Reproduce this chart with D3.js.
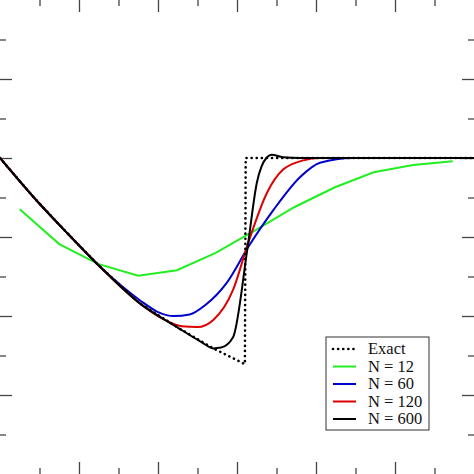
<!DOCTYPE html>
<html><head><meta charset="utf-8">
<script src="https://cdn.jsdelivr.net/npm/d3@7"></script>
<style>body{margin:0;background:#fff}svg{display:block}</style>
</head><body>
<script>
const exactX=[0,0.42,0.85,1.27,1.77,2.24,2.70,3.10,3.11,6];
const exactY=[0,-0.49,-0.95,-1.38,-1.84,-2.14,-2.41,-2.61,0,0];
const n600X=[0,0.42,0.85,1.27,1.77,2.24,2.55,2.70,2.80,2.95,3.13,3.25,3.38,3.44,3.58,3.8,6];
const n600Y=[0,-0.49,-0.95,-1.38,-1.84,-2.14,-2.33,-2.41,-2.40,-2.27,-1.16,-0.32,0.01,0.04,0.01,0,0];
const n120X=[0,0.42,0.85,1.27,1.77,2.05,2.30,2.50,2.70,2.95,3.14,3.38,3.58,3.84,4.05,6];
const n120Y=[0,-0.49,-0.95,-1.38,-1.84,-2.03,-2.13,-2.14,-2.05,-1.67,-1.08,-0.44,-0.15,-0.03,0,0];
const n60X=[0,0.42,0.85,1.27,1.77,2.00,2.20,2.40,2.60,2.87,3.14,3.46,3.80,4.05,4.47,6];
const n60Y=[0,-0.49,-0.95,-1.38,-1.80,-1.95,-2.00,-1.98,-1.86,-1.58,-1.13,-0.66,-0.24,-0.06,0,0];
const n12X=[0.25,0.75,1.24,1.75,2.24,2.73,3.24,3.73,4.24,4.73,5.23,5.73];
const n12Y=[-0.65,-1.09,-1.34,-1.49,-1.42,-1.20,-0.91,-0.62,-0.37,-0.18,-0.09,-0.04];
const legendLabels=["Exact","N = 12","N = 60","N = 120","N = 600"];
const majorX=[1,2,3,4,5], minorX=[0.5,1.5,2.5,3.5,4.5,5.5];
const majorY=[1,0,-1,-2,-3], minorY=[1.5,0.5,-0.5,-1.5,-2.5,-3.5];

const W=474,H=474;
const svg=d3.select("body").append("svg").attr("width",W).attr("height",H);
const x=d3.scaleLinear().domain([0,6]).range([0,W]);
const y=d3.scaleLinear().domain([2,-4]).range([0,H]);
function ax(axis,vals,size,tr){
  svg.append("g").attr("transform",tr).call(axis.tickValues(vals).tickSize(size).tickFormat(""))
   .call(g=>{g.select(".domain").remove();g.selectAll("line").attr("stroke","#444").attr("stroke-width",1.3);});
}
ax(d3.axisBottom(x),majorX,12,"translate(0,0)");
ax(d3.axisBottom(x),minorX,6,"translate(0,0)");
ax(d3.axisTop(x),majorX,12,`translate(0,${H})`);
ax(d3.axisTop(x),minorX,6,`translate(0,${H})`);
ax(d3.axisRight(y),majorY,12,"translate(0,0)");
ax(d3.axisRight(y),minorY,6,"translate(0,0)");
ax(d3.axisLeft(y),majorY,12,`translate(${W},0)`);
ax(d3.axisLeft(y),minorY,6,`translate(${W},0)`);

const series=[
 {xs:n12X,ys:n12Y,c:"#22ee22",curve:d3.curveLinear},
 {xs:n60X,ys:n60Y,c:"#0000cc",curve:d3.curveMonotoneX},
 {xs:n120X,ys:n120Y,c:"#dd0000",curve:d3.curveMonotoneX},
 {xs:exactX,ys:exactY,c:"#000",curve:d3.curveLinear,dash:"0.1,5"},
 {xs:n600X,ys:n600Y,c:"#000",curve:d3.curveMonotoneX}
];
series.forEach(s=>{
  const pts=s.xs.map((v,i)=>[v,s.ys[i]]);
  const p=svg.append("path").attr("fill","none").attr("stroke",s.c).attr("stroke-width",2)
   .attr("d",d3.line().x(d=>x(d[0])).y(d=>y(d[1])).curve(s.curve)(pts));
  if(s.dash) p.attr("stroke-dasharray",s.dash).attr("stroke-linecap","round").attr("stroke-width",2.6);
});

const leg=svg.append("g").attr("transform","translate(326,337)");
leg.append("rect").attr("width",103).attr("height",93).attr("fill","#fff").attr("stroke","#333").attr("stroke-width",1);
const lc=["#000","#22ee22","#0000cc","#dd0000","#000"];
legendLabels.forEach((t,i)=>{
  const yy=12+i*17.5;
  const l=leg.append("line").attr("x1",7).attr("x2",30).attr("y1",yy).attr("y2",yy).attr("stroke",lc[i]).attr("stroke-width",2);
  if(i===0) l.attr("stroke-dasharray","0.1,5").attr("stroke-linecap","round").attr("stroke-width",2.6);
  leg.append("text").attr("x",42).attr("y",yy+5).text(t).attr("font-family","Liberation Serif, serif").attr("font-size",16.5).attr("fill","#111");
});
</script>
</body></html>
